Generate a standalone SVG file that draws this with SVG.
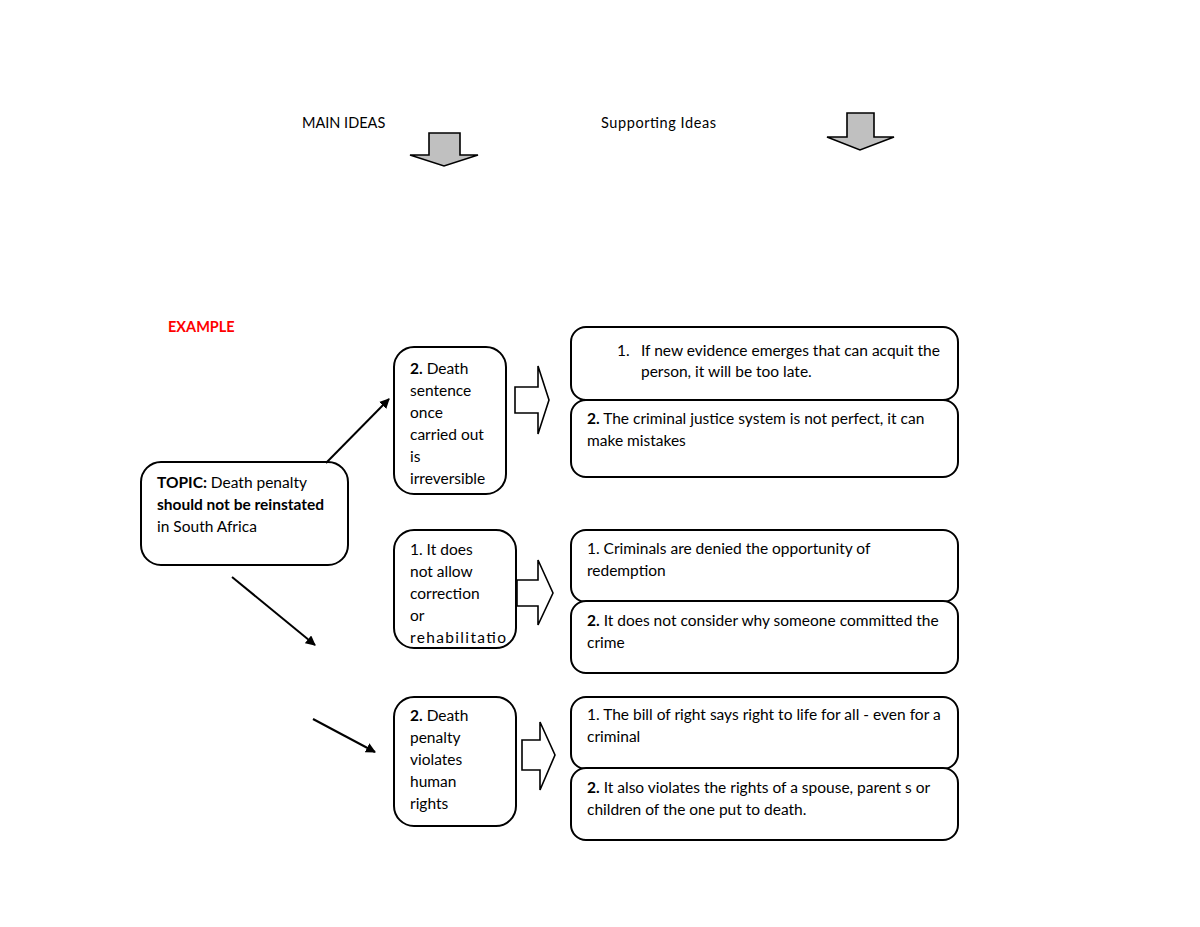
<svg xmlns="http://www.w3.org/2000/svg" width="1200" height="927" viewBox="0 0 1200 927">
<defs>
<style>
text{font-family:Lato,"Open Sans","Liberation Sans",sans-serif;font-size:15.5px;fill:#000}
.h{font-size:14.5px}
.b{font-weight:bold}
.box{fill:#fff;stroke:#000;stroke-width:2}
.blk{fill:#fff;stroke:#000;stroke-width:1.6}
.gray{fill:#c0c0c0;stroke:#000;stroke-width:1.6}
.con{stroke:#000;stroke-width:2;fill:none;marker-end:url(#ah)}
</style>
<marker id="ah" viewBox="0 0 10 10" refX="9" refY="5" markerWidth="5" markerHeight="5" orient="auto" markerUnits="strokeWidth">
<path d="M0,0 L10,5 L0,10 z" fill="#000"/>
</marker>
</defs>
<rect width="1200" height="927" fill="#fff"/>

<g id="headers">
<text x="302" y="128" class="h">MAIN IDEAS</text>
<text x="601" y="128" class="h" textLength="115">Supporting Ideas</text>
<path class="gray" d="M429,133 H460 V155 H478 L444,166 L410,155 H429 Z"/>
<path class="gray" d="M847,113 H874 V137 H894 L860,150 L827,137 H847 Z"/>
<text x="168" y="332" class="b h" style="fill:#ff0000">EXAMPLE</text>
</g>

<g id="topic">
<rect class="box" x="141" y="462" width="207" height="103" rx="20"/>
<text x="157" y="488"><tspan class="b">TOPIC:</tspan> Death penalty</text>
<text x="157" y="510" class="b">should not be reinstated</text>
<text x="157" y="532">in South Africa</text>
</g>

<g id="main1">
<rect class="box" x="394" y="347" width="112" height="147" rx="20"/>
<text x="410" y="374"><tspan class="b">2.</tspan> Death</text>
<text x="410" y="396">sentence</text>
<text x="410" y="418">once</text>
<text x="410" y="440">carried out</text>
<text x="410" y="462">is</text>
<text x="410" y="484">irreversible</text>
</g>

<g id="main2">
<rect class="box" x="394" y="530" width="122" height="118" rx="20"/>
<text x="410" y="555">1. It does</text>
<text x="410" y="577">not allow</text>
<text x="410" y="599">correction</text>
<text x="410" y="621">or</text>
<text x="410" y="643" textLength="96">rehabilitatio</text>
</g>

<g id="main3">
<rect class="box" x="394" y="697" width="122" height="129" rx="20"/>
<text x="410" y="721"><tspan class="b">2.</tspan> Death</text>
<text x="410" y="743">penalty</text>
<text x="410" y="765">violates</text>
<text x="410" y="787">human</text>
<text x="410" y="809">rights</text>
</g>

<g id="blockarrows">
<path class="blk" d="M515,387 H538 V366 L549,400 L538,434 V413 H515 Z"/>
<path class="blk" d="M517,580 H538 V560 L553,593 L538,625 V606 H517 Z"/>
<path class="blk" d="M522,740 H540 V722 L555,755 L540,790 V770 H522 Z"/>
</g>

<g id="sup1">
<rect class="box" x="571" y="327" width="387" height="73" rx="15"/>
<rect class="box" x="571" y="400" width="387" height="77" rx="15"/>
<text x="617" y="356">1.</text>
<text x="641" y="356">If new evidence emerges that can acquit the</text>
<text x="641" y="377">person, it will be too late.</text>
<text x="587" y="424"><tspan class="b">2.</tspan> The criminal justice system is not perfect, it can</text>
<text x="587" y="446">make mistakes</text>
</g>

<g id="sup2">
<rect class="box" x="571" y="530" width="387" height="72" rx="15"/>
<rect class="box" x="571" y="601" width="387" height="72" rx="15"/>
<text x="587" y="554">1. Criminals are denied the opportunity of</text>
<text x="587" y="576">redemption</text>
<text x="587" y="626"><tspan class="b">2.</tspan> It does not consider why someone committed the</text>
<text x="587" y="648">crime</text>
</g>

<g id="sup3">
<rect class="box" x="571" y="697" width="387" height="72" rx="15"/>
<rect class="box" x="571" y="768" width="387" height="72" rx="15"/>
<text x="587" y="720">1. The bill of right says right to life for all - even for a</text>
<text x="587" y="742">criminal</text>
<text x="587" y="793"><tspan class="b">2.</tspan> It also violates the rights of a spouse, parent s or</text>
<text x="587" y="815">children of the one put to death.</text>
</g>

<g id="connectors">
<line class="con" x1="326" y1="463" x2="389" y2="399"/>
<line class="con" x1="232" y1="577" x2="315" y2="645"/>
<line class="con" x1="313" y1="719" x2="375" y2="752"/>
</g>
</svg>
